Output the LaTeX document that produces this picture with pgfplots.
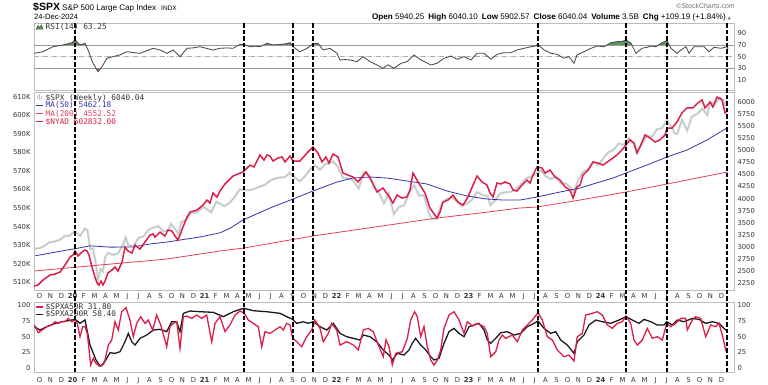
\documentclass[border=0pt]{standalone}
\usepackage{pgfplots}
\usepackage{pgfplotstable}
\pgfplotsset{compat=1.18}
\usepackage{fontspec}
\setmainfont{Liberation Sans}
\newfontfamily\dvs{DejaVu Sans}
\newfontfamily\dvm{DejaVu Sans Mono}
\definecolor{frm}{HTML}{BDBDBD}
\definecolor{lbl}{HTML}{333333}
\definecolor{nyad}{HTML}{DC1E48}
\definecolor{ma50c}{HTML}{3434A8}
\definecolor{ma200c}{HTML}{E0405A}
\definecolor{spxc}{HTML}{D5DCD9}
\definecolor{spxd}{HTML}{B3BDB9}
\definecolor{rsic}{HTML}{4A4A4A}
\definecolor{rsig}{HTML}{5E9460}
\definecolor{rsir}{HTML}{D0475A}
\definecolor{a50c}{HTML}{DC1E48}
\definecolor{a200c}{HTML}{1A1A1A}

% x = horizontal position (time, one unit per pixel column; Jan 2020 = 69, 11 units per month)
\pgfplotstableread{
x y
34 55.7
43 58.5
53 67
63 70
68 72
72 74
75 78.6
80 70
85 72.9
88 61.4
93 38.6
98 24.2
102 32.8
107 47.2
113 50
120 53
127 58.5
133 57
140 55.7
147 60.2
153 64.3
160 61.4
167 55.7
173 61.4
180 50
187 64.3
193 65
200 67
207 64
213 61.4
220 64.3
227 65
233 64.3
240 71
244 71
250 67
255 68
260 67
267 73
273 70
280 71
286 72
290 74
293 67
297 62
300 58.5
307 64.3
313 71.7
318 73
323 61.4
330 64.3
337 55.7
340 44.3
345 45
350 44.3
357 41.4
363 50
370 41.4
377 35.7
383 30
388 36
394 30
401 38.6
407 41.4
414 52.8
421 44.3
426 40
431 35.7
437 38.6
444 47.2
451 51.1
457 45.5
464 50
471 44.3
477 55.7
484 55.7
491 45.5
497 54
504 56.8
511 56.8
517 61.4
524 64.3
531 67
535 68
538 71
544 61.4
551 55.7
557 54
564 47.2
569 50
574 38.6
577 52.8
584 58.5
591 64.3
597 68.3
604 67
611 74
617 75.7
622 76
626 78.6
631 73
636 55.7
642 64.3
647 66
651 68.3
656 67
661 73
667 77.4
671 64.3
677 55.7
681 61.4
686 67
689 55.7
694 67
704 67
709 58.5
714 66
721 64.3
727 67
728 63.25
}\rsidata

\pgfplotstableread{
x y
34.6 2962
39.5 2970
44.6 3023
49.5 3093
54.7 3110
59.8 3146
64.7 3221
70.1 3235
75 3330
80 3225
85 3380
87.5 3338
90.2 2954
92.8 2972
95.4 2711
97.9 2305
100.6 2541
103 2489
105.3 2790
108 2875
113 2831
118 2864
123 3044
125.7 3194
128.2 3041
133.4 3009
138.5 3185
143.5 3215
148.5 3351
153.5 3397
158.4 3427
163.4 3319
168.3 3348
170.9 3477
178.7 3270
181.2 3509
186.2 3557
191.1 3699
196 3709
203.8 3824
211.2 3714
216.4 3934
224.4 3842
229.6 3913
234.3 4020
239.5 4185
244.7 4181
249.7 4174
254.9 4204
259.9 4247
264.8 4281
270 4370
275 4411
279.9 4437
284.9 4442
289.8 4535
294.8 4433
300 4357
305.2 4471
310.2 4605
315.1 4682
320.1 4595
325.3 4712
333 4766
337.7 4662
342.9 4431
347.9 4419
352.8 4385
358.6 4204
363.8 4543
368.8 4488
373.7 4272
378.9 4123
383.9 3901
388.8 4108
393.8 3675
399 3825
404.2 3863
409.2 4130
414.1 4280
419.1 4058
424 4067
429 3693
431.7 3586
436.7 3583
441.9 3901
446.9 3993
451.8 4026
457 3934
462 3845
466.9 3895
471.9 3973
477.1 4136
481.8 4079
487.8 4046
490.3 3862
495.5 3971
500.2 4105
505.4 4133
510.4 4136
515.6 4192
520.3 4282
525.5 4410
530.7 4450
535.7 4505
540.9 4582
545.6 4464
550.8 4406
556 4457
560.7 4320
565.9 4308
570.9 4224
573.6 4117
578.6 4415
583.5 4559
588.5 4604
593.7 4755
598.4 4697
603.6 4840
608.3 4959
613.5 5006
618.7 5137
624.2 5117
628.9 5254
634.1 5123
636.6 4967
641.8 5128
646.8 5303
652 5278
656.7 5431
661.9 5460
667.1 5615
672.1 5459
674.8 5346
677.3 5344
682 5634
687.2 5408
691.9 5703
697.1 5751
702.3 5865
707.3 5729
710 5996
715 5969
720.2 6090
722.7 6051
725.4 5931
726.8 6040
}\spxdata

\pgfplotstableread{
x y
34 2809
67 2933
75 2960
90 3020
110 2993
133 2996
150 3058
167 3099
183 3150
200 3203
220 3290
230 3383
243 3555
270 3804
293 3990
313 4156
337 4342
353 4425
370 4446
387 4425
407 4363
427 4301
447 4156
467 4052
487 3990
503 3969
520 3969
537 4032
560 4135
580 4218
593 4301
613 4425
626 4529
647 4695
667 4860
687 5005
707 5213
727 5462
}\mafifty

\pgfplotstableread{
x y
34 2498
100 2623
167 2747
220 2913
244 2975
313 3224
437 3596
480 3700
520 3804
537 3824
580 3969
626 4135
667 4301
728 4552
}\matwo

\pgfplotstableread{
x y
34 507.8
38 508.4
43 511.1
50 513.8
55 514.3
60 515.4
63 517.6
67 520.8
70 523.5
73 524.6
75 526.8
78 524.1
82 526.2
85 527.3
87 526.8
89 524.6
92 518.1
95 512.7
97 509.5
99 508.4
101 510.5
103 508.4
105 510.5
108 514.9
112 516.5
115 518.1
118 515.9
122 520.8
125 528.9
128 526.8
132 525.7
135 530.0
140 527.8
145 531.6
150 535.4
153 536.0
155 534.3
160 537.0
165 534.9
168 538.1
172 537.6
175 534.9
178 532.7
183 539.7
187 545.1
190 547.8
197 548.9
203 551.6
207 554.3
210 552.7
213 558.1
217 555.9
220 559.2
225 563.0
233 567.3
238 568.4
243 569.5
250 573.2
254 572.2
260 578.7
264 575.9
267 578.7
270 578.1
273 575.4
278 577.0
282 577.6
285 574.9
290 578.1
293 575.4
300 575.4
307 579.7
313 583.0
318 579.7
322 574.9
326 577.6
329 574.3
333 579.2
338 577.6
343 568.9
348 567.8
353 566.8
358 564.1
362 566.8
366 569.5
370 566.2
377 558.7
383 560.8
388 557.0
393 552.7
397 557.0
402 555.4
407 556.0
410 559.7
413 568.9
417 565.1
420 562.4
425 558.1
430 550.0
437 544.6
440 547.8
443 553.2
448 554.3
453 557.0
458 553.2
463 551.6
468 556.0
473 562.4
477 567.3
482 564.1
487 562.4
490 558.1
493 556.0
497 563.5
501 563.0
505 564.1
510 563.0
513 559.7
517 559.2
522 562.4
527 565.1
530 563.5
533 567.8
537 572.2
542 571.6
545 568.9
550 570.5
555 566.8
560 565.1
565 561.4
570 559.7
573 555.4
577 561.4
580 562.4
583 567.8
588 570.5
593 574.9
598 574.3
603 573.2
610 575.9
617 578.7
622 581.4
626 584.1
630 586.8
634 585.1
637 579.7
640 583.0
645 589.5
650 587.8
655 585.7
660 586.8
665 589.5
667 593.2
672 593.2
677 596.5
682 601.4
687 604.1
693 604.1
698 606.8
702 608.4
705 604.1
710 607.3
713 604.6
717 610.0
722 608.4
725 601.4
728 602.8
}\nyaddata

\pgfplotstableread{
x y
34.3 68.3
38.3 56
41.7 60
46.7 65.6
51.7 68.3
55 73.5
58.3 70.9
61.7 73.5
65 73.5
68.3 78.8
71.7 73.5
75.3 76.2
77.3 70.9
80 49.7
82.7 65.6
85 65.6
87.3 55
90.7 4.8
93.3 15.3
96 7.4
99.3 3.2
101.7 3.2
105 12.7
108.3 36.5
111.7 44.4
115 73.5
118.3 60.3
121.7 89.4
126 95.8
130 76.2
133.3 49.7
136.7 70.9
140.7 81.5
145 70.9
148.3 76.2
152.7 60.3
156.7 84.1
160.7 68.3
165 44.4
166.7 33.9
170 65.6
173.3 70.9
176.7 73.5
180 31.2
183.3 81.5
186.7 82.5
191.7 78.8
196.7 84.1
201.7 78.8
206.7 84.1
211.7 41.8
215 70.9
220 81.5
225 57.7
230 68.3
235 84.1
240 90.5
244.3 86.8
248.3 76.2
253.3 70.9
258.3 65.6
261.7 33.9
265 57.7
270 55
275 60.3
280 65.6
283.3 60.3
286.7 70.9
290 68.3
292.7 47.1
296.7 41.8
301.7 33.9
306.7 49.7
311.7 60.3
315 76.2
320 63
323.3 41.8
328.3 55
331.7 70.9
336.7 60.3
340 36.5
346.7 41.8
353.3 36.5
358.3 28.6
363.3 60.3
368.3 63
373.3 57.7
378.3 36.5
383.3 18
386 45
389 33.9
392.3 4.8
395.7 23.3
402.3 25.9
407.3 47.1
410.7 76.2
414.7 89.4
417.3 81.5
420.7 49.7
424 65.6
427.3 33.9
430.7 12.7
434 4.8
437.3 12.7
440.7 28.6
444 63
449 84.1
454 89.4
459 76.2
464 55
467.3 73.5
472.3 66.7
477.3 70.9
484 65.6
487.3 55
490.7 18
495.7 25.9
499 44.4
502.3 52.4
505.7 47.1
512.3 52.4
517.3 41.8
522.3 60.3
527.3 68.3
532.3 76.2
538 87.8
542.3 76.2
547.3 49.7
552.3 44.4
557.3 28.6
564 18
569 20.6
574 11.1
577.3 49.7
582.3 55
585.7 84.1
592.3 86.8
597.3 89.4
602.3 84.1
607.3 68.3
612.3 63
617.3 70.9
622.3 73.5
626 82.5
630.7 70.9
634 44.4
637.3 36.5
642.3 44.4
647.3 63
652.3 47.1
657.3 49.7
662.3 44.4
666.7 70.9
670.7 65.6
675.7 70.9
680.7 78.8
685.7 78.8
687.3 60.3
692.3 76.2
695.7 81.5
700.7 78.8
705.7 49.7
710.7 68.3
715.7 65.6
719 70.9
722.3 52.4
725.7 28.6
727.3 31.8
}\afifty

\pgfplotstableread{
x y
34.3 65.6
40 60.3
46.7 65.6
53.3 69.8
61.7 73.5
68.3 75.1
75.3 77.2
80 70.9
85 76.2
90 36.5
92.7 25.9
96 12.7
100 3.2
103.3 6.3
106.7 15.3
110 24.3
115 23.3
120 25.9
125 41.8
128.3 55
131.7 41.8
135 36.5
140 47.1
146.7 52.4
153.3 60.3
160 61.4
166.7 57.7
171.7 73.5
176.7 73.5
180 57.7
183.3 86.8
190 90.5
200 89.4
213.3 88.4
223.3 81.5
233.3 89.4
240 93.1
244.3 94.7
253.3 91
266.7 89.4
280 86.8
286.7 81.5
292.7 77.2
296.7 70.9
303.3 73.5
308.3 70.9
313.3 73.5
320 65.6
326.7 60.3
333.3 70.9
340 55
346.7 49.7
353.3 47.1
360 44.4
363.3 52.4
370 49.7
376.7 41.8
383.3 28.6
389 20.6
392.3 12.7
397.3 23.3
404 20.6
409 28.6
412.3 39.2
415.7 47.1
420.7 36.5
425.7 28.6
430.7 18
434 12.7
439 15.3
444 39.2
449 57.7
454 63
459 55
464 49.7
469 65.6
474 68.3
479 70.9
484 60.3
487.3 44.4
490.7 39.2
495.7 47.1
500.7 56
507.3 57.7
514 52.4
520.7 55
527.3 65.6
534 70.9
538 74.6
544 63
550.7 55
555.7 57.7
560.7 44.4
567.3 36.5
574 23.3
577.3 41.8
584 52.4
589 68.3
595.7 76.2
602.3 73.5
610.7 70.9
619 76.2
626 81.5
632.3 76.2
639 70.9
644 77.2
650.7 73.5
657.3 68.3
664 68.3
666.7 73.5
672.3 68.3
677.3 76.2
684 73.5
692.3 78.8
699 77.2
705.7 70.9
712.3 73.5
719 70.9
724 63
727.3 58.4
}\atwohundred

\pgfplotsset{
  panel/.style={scale only axis, width=700pt, xmin=34, xmax=734, anchor=south west,
    axis line style={draw=frm, line width=0.6pt}, major tick length=0pt,
    xtick=\empty, ticklabel style={font=\dvs\fontsize{6.8}{7}\selectfont, text=lbl},
    clip=true},
  hiddenpanel/.style={scale only axis, width=700pt, xmin=34, xmax=734, anchor=south west,
    hide axis, clip=true},
  monthlabels/.style={xtick={39.5,50.5,...,721.5},
    xticklabels={O,N,D,\textbf{20},F,M,A,M,J,J,A,S,O,N,D,\textbf{21},F,M,A,M,J,J,A,S,O,N,D,\textbf{22},F,M,A,M,J,J,A,S,O,N,D,\textbf{23},F,M,A,M,J,J,A,S,O,N,D,\textbf{24},F,M,A,M,J,J,A,S,O,N,D}},
}

\begin{document}
\begin{tikzpicture}[x=1pt,y=1pt]
\useasboundingbox (0,0) rectangle (768,384);

% ---------- RSI panel ----------
\begin{axis}[hiddenpanel, at={(34pt,339pt)}, height=22pt, ymin=70, ymax=107.7]
\addplot[fill=rsig, draw=none] table {\rsidata} -- (axis cs:728,0) -- (axis cs:34,0) -- cycle;
\end{axis}
\begin{axis}[hiddenpanel, at={(34pt,294pt)}, height=21.7pt, ymin=-7.2, ymax=30]
\addplot[fill=rsir, draw=none] table {\rsidata} -- (axis cs:728,200) -- (axis cs:34,200) -- cycle;
\end{axis}
\begin{axis}[panel, at={(34pt,294pt)}, height=67pt, ymin=-7.2, ymax=107.7,
  ytick={10,30,50,70,90}, yticklabels={10,30,50,70,90}, yticklabel pos=right]
\addplot[gray!80, line width=0.6pt] coordinates {(34,70) (734,70)};
\addplot[gray!80, line width=0.6pt] coordinates {(34,30) (734,30)};
\addplot[gray!65, line width=0.6pt, dash pattern=on 5pt off 1.5pt on 1pt off 1.5pt] coordinates {(34,50) (734,50)};
\addplot[rsic, line width=0.85pt] table {\rsidata};
\end{axis}

% ---------- Main panel, right scale ----------
\begin{axis}[panel, at={(34pt,94pt)}, height=198pt, ymin=2105, ymax=6207,
  ytick={2250,2500,...,6000},
  yticklabels={2250,2500,2750,3000,3250,3500,3750,4000,4250,4500,4750,5000,5250,5500,5750,6000},
  yticklabel pos=right]
\addplot[spxc, line width=2.3pt] table {\spxdata};
\addplot[spxd, line width=0.5pt] table {\spxdata};
\addplot[ma200c, line width=0.8pt] table {\matwo};
\addplot[ma50c, line width=0.8pt] table {\mafifty};
\end{axis}

% ---------- Main panel, left scale (NYAD) ----------
\begin{axis}[panel, at={(34pt,94pt)}, height=198pt, ymin=505.7, ymax=612.7,
  ytick={510,520,...,610},
  yticklabels={510K,520K,530K,540K,550K,560K,570K,580K,590K,600K,610K},
  monthlabels, xticklabel style={anchor=base, yshift=-8.5pt}]
\addplot[nyad, line width=1.5pt] table {\nyaddata};
\end{axis}

% ---------- Bottom panel ----------
\begin{axis}[panel, at={(34pt,12pt)}, height=70pt, ymin=-6.3, ymax=104.8,
  ytick={0,25,50,75,100}, yticklabels={0,25,50,75,100}, yticklabel pos=right]
\end{axis}
\begin{axis}[panel, at={(34pt,12pt)}, height=70pt, ymin=-6.3, ymax=104.8,
  ytick={0,25,50,75,100}, yticklabels={0,25,50,75,100},
  monthlabels, xticklabel style={anchor=base, yshift=-10pt}]
\addplot[a200c, line width=1.3pt] table {\atwohundred};
\addplot[a50c, line width=1.3pt] table {\afifty};
\end{axis}

% ---------- Vertical dashed markers ----------
\foreach \xx in {75,244,293,313,538,626,667,727}
  \draw[black, line width=1.2pt, dash pattern=on 4.5pt off 2pt] (\xx,361) -- (\xx,12);

% ---------- Header ----------
\node[anchor=base west, inner sep=0pt] at (33,373.5) {\fontsize{10.5}{12}\selectfont\bfseries \$SPX};
\node[anchor=base west, inner sep=0pt] at (62,373.5) {\fontsize{8.1}{9}\selectfont S\&P 500 Large Cap Index};
\node[anchor=base west, inner sep=0pt] at (161,373.5) {\fontsize{6.5}{7}\selectfont INDX};
\node[anchor=base west, inner sep=0pt] at (34,364.7) {\fontsize{7.6}{8}\selectfont 24-Dec-2024};
\node[anchor=base east, inner sep=0pt] at (726,364.5) {\fontsize{8.1}{9}\selectfont
  \textbf{Open} 5940.25\enspace \textbf{High} 6040.10\enspace \textbf{Low} 5902.57\enspace \textbf{Close} 6040.04\enspace \textbf{Volume} 3.5B\enspace \textbf{Chg} +109.19 (+1.84\%)};
\node[anchor=base west, inner sep=0pt, text=gray] at (727.5,364.5) {\dvs\fontsize{4.5}{5}\selectfont ▲};
\node[anchor=base east, inner sep=0pt, text=gray!90!black] at (735,375) {\fontsize{7}{8}\selectfont \textcopyright StockCharts.com};

% ---------- Legends ----------
\fill[rsig] (36,354.5) -- (38,358.5) -- (39.5,356.5) -- (41.5,359) -- (43,354.5) -- cycle;
\draw[rsic, line width=0.5pt] (36,354.5) -- (38,358.5) -- (39.5,356.5) -- (41.5,359) -- (43,354.5);
\node[anchor=base west, inner sep=0pt, text=lbl] at (45.5,354.5) {\dvm\fontsize{7.8}{8}\selectfont RSI(14) 63.25};

\foreach \xx/\ya/\yb in {37/285/289,39/284.5/290,41/285.5/288.5} \draw[spxd, line width=0.9pt] (\xx,\ya) -- (\xx,\yb);
\node[anchor=base west, inner sep=0pt, text=lbl] at (45.5,284) {\dvm\fontsize{7.8}{8}\selectfont \$SPX (Weekly) 6040.04};
\draw[ma50c, line width=1pt] (36,279) -- (43,279);
\node[anchor=base west, inner sep=0pt, text=ma50c] at (45.5,276.5) {\dvm\fontsize{7.8}{8}\selectfont MA(50) 5462.18};
\draw[ma200c, line width=1pt] (36,270.5) -- (43,270.5);
\node[anchor=base west, inner sep=0pt, text=ma200c] at (45.5,268) {\dvm\fontsize{7.8}{8}\selectfont MA(200) 4552.52};
\draw[nyad, line width=1.5pt] (36,262.5) -- (43,262.5);
\node[anchor=base west, inner sep=0pt, text=nyad] at (45.5,260) {\dvm\fontsize{7.8}{8}\selectfont \$NYAD 602832.00};

\draw[a50c, line width=1.5pt] (36,77) -- (43,77);
\node[anchor=base west, inner sep=0pt, text=lbl] at (45.5,74.7) {\dvm\fontsize{7.8}{8}\selectfont \$SPXA50R 31.80};
\draw[a200c, line width=1.5pt] (36,69.5) -- (43,69.5);
\node[anchor=base west, inner sep=0pt, text=lbl] at (45.5,67.3) {\dvm\fontsize{7.8}{8}\selectfont \$SPXA200R 58.40};
\end{tikzpicture}
\end{document}
